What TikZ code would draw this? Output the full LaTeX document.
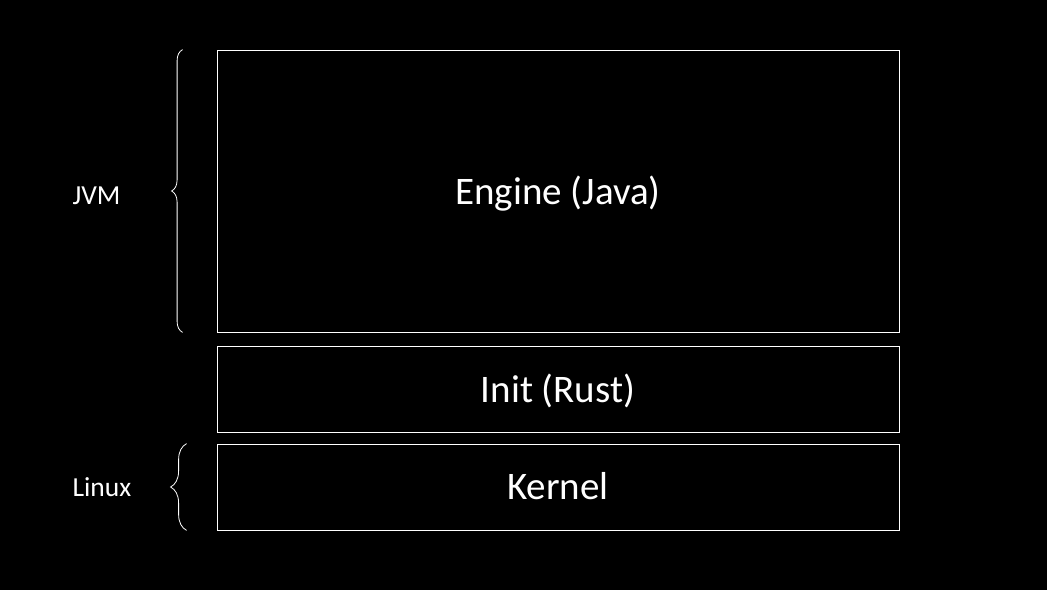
\documentclass[tikz,border=0pt]{standalone}
\usepackage{fontspec}
\setmainfont{Carlito}
\usetikzlibrary{decorations.pathreplacing}

\begin{document}
\begin{tikzpicture}[x=1pt,y=-1pt]
\tikzset{layer/.style={draw=white,line width=0.8pt,minimum width=682pt,inner sep=0pt,text depth=2pt,text=white,font=\fontsize{39}{46}\selectfont}}
\tikzset{side/.style={anchor=west,text=white,font=\fontsize{27.5}{33}\selectfont}}
\tikzset{curly/.style={draw=white,line width=0.8pt,decorate,decoration={brace,amplitude=#1}}}
\fill [black] (0,0) rectangle (1047,590);
\useasboundingbox (0,0) rectangle (1047,590);
% the three layers
\node [layer,minimum height=282pt] (engine) at (558,191) {Engine (Java)};
\node [layer,minimum height=86pt] (init) at (558,389) {Init (Rust)};
\node [layer,minimum height=86pt] (kernel) at (558,487) {Kernel};
% labels on the left
\node [side] (jvm) at (69,196) {JVM};
\node [side] (linux) at (69,487) {Linux};
\draw [curly=11pt] ([xshift=-34pt]engine.south west) -- ([xshift=-34pt]engine.north west);
\draw [curly=16pt] ([xshift=-30pt]kernel.south west) -- ([xshift=-30pt]kernel.north west);
\end{tikzpicture}
\end{document}
